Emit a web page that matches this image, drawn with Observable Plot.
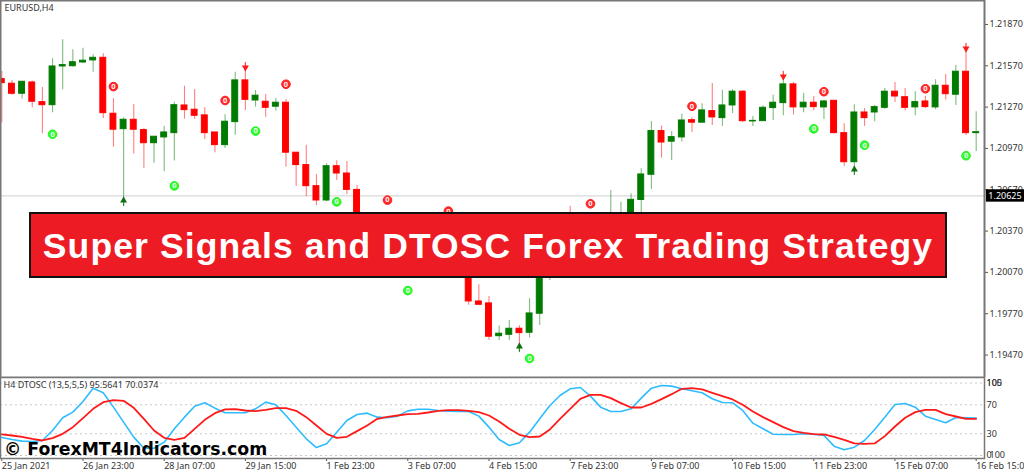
<!DOCTYPE html>
<html><head><meta charset="utf-8">
<script src="https://cdn.jsdelivr.net/npm/d3@7"></script>
<script src="https://cdn.jsdelivr.net/npm/@observablehq/plot@0.6"></script>
<style>
html,body{margin:0;padding:0;background:#fff;overflow:hidden}
#wrap{position:relative;width:1024px;height:473px;overflow:hidden}
#wrap svg{display:block}
#banner{position:absolute;left:29px;top:212px;width:914px;height:62px;background:#ed1c24;border:2px solid #111;color:#fff;font:bold 35.5px "Liberation Sans",sans-serif;line-height:65px;text-align:center;letter-spacing:1.1px;white-space:nowrap}
#mark{position:absolute;left:4px;top:439px;color:#000;font:bold 17.3px "DejaVu Sans",sans-serif;white-space:nowrap}
</style></head><body>
<div id="wrap"><div id="main"></div><div id="sub"></div>
<div id="banner">Super Signals and DTOSC Forex Trading Strategy</div>
<div id="mark">© ForexMT4Indicators.com</div></div>
<script>
const open_=[1.21473,1.21440,1.21367,1.21449,1.21306,1.21284,1.21565,1.21567,1.21594,1.21609,1.21628,1.21222,1.21110,1.21178,1.21103,1.21008,1.21050,1.21081,1.21282,1.21251,1.21210,1.21086,1.20994,1.21161,1.21464,1.21318,1.21309,1.21273,1.21302,1.20939,1.20849,1.20696,1.20592,1.20841,1.20788,1.20669,1.20433,1.20462,1.20360,1.20302,1.20389,1.20317,1.20244,1.20215,1.20302,1.20229,1.20142,1.19859,1.19845,1.19607,1.19617,1.19661,1.19632,1.19770,1.20099,1.20171,1.20244,1.20186,1.20142,1.20302,1.20389,1.20462,1.20476,1.20596,1.20779,1.21096,1.21019,1.21050,1.21175,1.21157,1.21241,1.21190,1.21282,1.21382,1.21166,1.21168,1.21263,1.21299,1.21435,1.21268,1.21302,1.21268,1.21316,1.21081,1.20870,1.21231,1.21231,1.21265,1.21382,1.21342,1.21268,1.21311,1.21268,1.21425,1.21360,1.21527,1.21081];
const close_=[1.21444,1.21367,1.21454,1.21309,1.21284,1.21565,1.21575,1.21596,1.21607,1.21628,1.21226,1.21106,1.21178,1.21106,1.21008,1.21055,1.21086,1.21284,1.21248,1.21207,1.21081,1.20994,1.21164,1.21464,1.21323,1.21353,1.21265,1.21302,1.20939,1.20849,1.20696,1.20592,1.20841,1.20788,1.20669,1.20433,1.20476,1.20360,1.20302,1.20389,1.20317,1.20244,1.20215,1.20302,1.20229,1.20142,1.19859,1.19835,1.19603,1.19625,1.19661,1.19629,1.19772,1.20142,1.20193,1.20244,1.20186,1.20142,1.20302,1.20389,1.20476,1.20484,1.20597,1.20781,1.21096,1.21013,1.21052,1.21173,1.21157,1.21246,1.21195,1.21282,1.21382,1.21168,1.21170,1.21265,1.21302,1.21435,1.21268,1.21302,1.21270,1.21311,1.21081,1.20870,1.21231,1.21190,1.21270,1.21382,1.21347,1.21265,1.21306,1.21270,1.21425,1.21364,1.21527,1.21081,1.21088];
const high_=[1.21529,1.21464,1.21454,1.21459,1.21413,1.21621,1.21759,1.21686,1.21698,1.21650,1.21657,1.21331,1.21193,1.21289,1.21117,1.21055,1.21130,1.21306,1.21422,1.21398,1.21265,1.21086,1.21215,1.21524,1.21549,1.21391,1.21362,1.21333,1.21326,1.20939,1.20994,1.20781,1.20859,1.20881,1.20876,1.20701,1.20491,1.20484,1.20404,1.20433,1.20418,1.20360,1.20302,1.20346,1.20331,1.20273,1.20186,1.19980,1.19895,1.19680,1.19721,1.19683,1.19879,1.20171,1.20229,1.20302,1.20551,1.20229,1.20360,1.20433,1.20665,1.20580,1.20641,1.20823,1.21166,1.21132,1.21093,1.21219,1.21193,1.21294,1.21442,1.21393,1.21396,1.21390,1.21202,1.21280,1.21357,1.21488,1.21449,1.21371,1.21347,1.21318,1.21316,1.21149,1.21287,1.21260,1.21282,1.21406,1.21449,1.21406,1.21382,1.21347,1.21469,1.21507,1.21572,1.21681,1.21236];
const low_=[1.21154,1.21357,1.21328,1.21265,1.21077,1.21229,1.21396,1.21560,1.21585,1.21524,1.21188,1.20979,1.20571,1.20929,1.20825,1.20863,1.20801,1.20878,1.21183,1.21180,1.21035,1.20939,1.20970,1.21066,1.21246,1.21270,1.21197,1.21241,1.20834,1.20694,1.20621,1.20556,1.20583,1.20738,1.20636,1.20404,1.20389,1.20317,1.20258,1.20273,1.20287,1.20215,1.20171,1.20186,1.20200,1.20113,1.19832,1.19828,1.19576,1.19576,1.19576,1.19496,1.19593,1.19685,1.20012,1.20128,1.20142,1.20099,1.20113,1.20258,1.20346,1.20411,1.20433,1.20505,1.20672,1.20900,1.20883,1.21017,1.21086,1.21154,1.21137,1.21130,1.21224,1.21160,1.21130,1.21168,1.21173,1.21207,1.21212,1.21229,1.21244,1.21180,1.21075,1.20839,1.20791,1.21130,1.21164,1.21255,1.21304,1.21244,1.21207,1.21260,1.21251,1.21321,1.21282,1.21064,1.20948];
const signalZeroUp=[[5,1.21073],[17,1.20698],[25,1.21096],[33,1.20582],[40,1.19938],[52,1.19445],[80,1.21112],[85,1.20994],[95,1.20917]];
const signalZeroDown=[[11,1.21419],[22,1.21318],[28,1.21436],[38,1.20595],[44,1.20515],[58,1.20568],[68,1.21276],[81,1.21382],[91,1.21403]];
const arrowsUp=[[12,1.20585],[51,1.19525],[84,1.20810]];
const arrowsDown=[[24,1.21565],[77,1.21500],[95,1.21703]];
const priceTicks=[1.2187,1.2157,1.2127,1.2097,1.2067,1.2037,1.2007,1.1977,1.1947];
const currentPrice=1.20625;
const blue=[24.8,22,19.8,19.3,20.7,34.5,52,59.8,74.5,92.9,86.5,66.7,46,25.3,10,10,18.4,36.8,52.9,68,72.7,65.3,58.9,58.9,58.9,64.4,73.6,69.9,55.2,39.1,23,11,16.1,32.2,48.3,56.6,58.4,52.9,52,54.3,61.6,63.9,63.9,62.1,61.2,60.7,60.7,54.3,39.1,22.1,13.8,17.5,32.2,50.6,69,82.8,92,93.8,81.9,66.7,60.7,60.7,64.4,79.1,92.9,96.6,95.7,92,89.2,86.5,78.2,73.1,72.7,62.1,44.6,36.8,29.4,29,29,29.9,29.4,27.6,12.9,7.8,11.5,20.7,35.9,52.9,70.4,71.8,66.7,54.3,49.7,45.1,52.4,52,51.5];
const red=[29,27.6,25.8,23,20.7,23.9,29.9,39.1,51.5,64.4,73.6,76.4,75.4,65.8,50.6,34.5,24.4,21.6,24.4,36.8,49.2,58.4,63.5,63.9,62.1,61.2,63,65.3,65.3,61.6,52.9,41.4,29.9,24.4,25.8,33.6,41.4,50.6,53.4,55.2,57,57.5,59.3,61.6,62.6,62.6,61.6,59.8,55.2,46.9,36.8,28.5,25.3,26.2,35.9,50.6,64.4,78.2,83.7,83.7,79.1,72.2,66.2,66.2,71.3,77.7,84.6,92,92.9,91.1,86.5,81.9,77.3,69.9,60.7,52.9,46,39.1,33.6,31.3,29.4,29,25.8,21.6,16.6,16.1,16.6,26.7,40,52,59.8,63,63,57,53.8,50.6,50.6];
const dateLabels=["25 Jan 2021","26 Jan 23:00","28 Jan 07:00","29 Jan 15:00","1 Feb 23:00","3 Feb 07:00","4 Feb 15:00","7 Feb 23:00","9 Feb 07:00","10 Feb 15:00","11 Feb 23:00","15 Feb 07:00","16 Feb 15:00"];
const oscTicks=[0,30,70,100];
const font='"Noto Sans",sans-serif';
const xDom=[-0.128,96.82], xRange=[0,984];
const candles=open_.map((o,i)=>({i,o,c:close_[i],h:high_[i],l:low_[i],up:close_[i]>=o}));
const GREEN="#007a00",RED="#ff0000";
const colorOf=d=>d.up?GREEN:RED;

const main=Plot.plot({
  width:1024,height:377,marginTop:0,marginBottom:0,marginLeft:0,marginRight:40,
  style:{background:"transparent",fontFamily:font,fontSize:"9px",color:"#333"},
  x:{domain:xDom,range:xRange,axis:null},
  y:{domain:[1.19307,1.22044],range:[377,0],axis:null},
  marks:[
    Plot.ruleY([currentPrice],{stroke:"#d8d8d8",strokeWidth:1.2}),
    Plot.ruleX(candles,{x:"i",y1:"l",y2:"h",stroke:colorOf,strokeOpacity:0.5,strokeWidth:1.1}),
    Plot.rect(candles,{x1:d=>d.i-0.29,x2:d=>d.i+0.29,y1:"o",y2:"c",fill:colorOf,stroke:colorOf,strokeWidth:1}),
    Plot.dot(signalZeroUp,{x:"0",y:"1",r:4.3,fill:"#2bff2b",stroke:"#22f022",strokeWidth:1}),
    Plot.text(signalZeroUp,{x:"0",y:"1",text:()=>"0",fill:"#f4fff4",fontSize:7.5,fontWeight:"bold"}),
    Plot.dot(signalZeroDown,{x:"0",y:"1",r:4.3,fill:"#ff2a2a",stroke:"#ff1a1a",strokeWidth:1}),
    Plot.text(signalZeroDown,{x:"0",y:"1",text:()=>"0",fill:"#fff4f4",fontSize:7.5,fontWeight:"bold"}),
    Plot.vector(arrowsUp,{x:"0",y:"1",length:8,rotate:0,anchor:"middle",stroke:"#2a8a2a",strokeWidth:1.2,shape:{draw(c,l){c.moveTo(0,0);c.lineTo(0,-l);}}}),
    Plot.dot(arrowsUp,{x:"0",y:"1",r:2.6,symbol:"triangle",fill:"#0f700f",dy:-1}),
    Plot.vector(arrowsDown,{x:"0",y:"1",length:8,rotate:180,anchor:"middle",stroke:"#ff4040",strokeWidth:1.2,shape:{draw(c,l){c.moveTo(0,0);c.lineTo(0,-l);}}}),
    Plot.dot(arrowsDown,{x:"0",y:"1",r:2.6,symbol:"triangle",rotate:180,fill:"#ff1a1a",dy:1}),
    Plot.axisY({anchor:"right",ticks:priceTicks,tickSize:3,tickPadding:2,tickFormat:d3.format(".5f"),label:null,stroke:"#555",fill:"#333"}),
    Plot.rect([currentPrice],{x1:97,x2:100.8,y1:d=>d-0.00045,y2:d=>d+0.00045,fill:"#000",clip:false}),
    Plot.text([currentPrice],{x:97.2,y:d=>d,text:d3.format(".5f"),textAnchor:"start",fill:"#fff",fontSize:9}),
    Plot.text(["EURUSD,H4"],{frameAnchor:"top-left",dx:4,dy:4,fill:"#333",fontSize:9}),
    Plot.frame({stroke:"#777",strokeWidth:2})
  ]});
document.getElementById("main").append(main);

const sub=Plot.plot({
  width:1024,height:96,marginTop:0,marginBottom:15,marginLeft:0,marginRight:40,
  style:{background:"transparent",fontFamily:font,fontSize:"9px",color:"#333"},
  x:{domain:xDom,range:xRange,axis:null},
  y:{domain:[-4.14,107.6],range:[81,0],axis:null},
  marks:[
    Plot.ruleY(oscTicks,{stroke:"#c8c8c8",strokeDasharray:"2,3"}),
    Plot.line(blue,{x:(d,i)=>i,y:d=>d,stroke:"#2ebcff",strokeWidth:1.6,curve:"linear"}),
    Plot.line(red,{x:(d,i)=>i,y:d=>d,stroke:"#ff1a1a",strokeWidth:1.8,curve:"linear"}),
    Plot.axisY({anchor:"right",ticks:oscTicks,tickSize:0,tickPadding:2,label:null,fill:"#333"}),
    Plot.text(["105"],{x:96.82,y:()=>100,text:d=>d,textAnchor:"start",dx:2,fill:"#333"}),
    Plot.text(["100"],{x:96.82,y:()=>0,text:d=>d,textAnchor:"start",dx:5,fill:"#333"}),
    Plot.axisX({anchor:"bottom",ticks:dateLabels.map((d,i)=>i*8),tickFormat:d=>dateLabels[d/8],tickSize:3,tickPadding:1,textAnchor:"start",label:null,stroke:"#555",fill:"#333"}),
    Plot.text(["H4 DTOSC (13,5,5,5) 95.5641 70.0374"],{frameAnchor:"top-left",dx:3,dy:4,fill:"#333",fontSize:9}),
    Plot.frame({stroke:"#777",strokeWidth:1.5})
  ]});
document.getElementById("sub").append(sub);
</script></body></html>
